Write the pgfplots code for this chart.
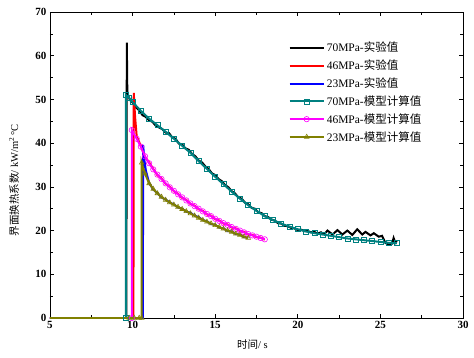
\documentclass[border=0pt]{standalone}
\usepackage{pgfplots}
\pgfplotsset{compat=1.18}
\usepackage{fontspec}
\setmainfont{Liberation Serif}
\newfontfamily\cjk{Noto Sans CJK SC}
\definecolor{cteal}{RGB}{0,128,128}
\definecolor{colive}{RGB}{128,128,0}
\definecolor{cmag}{RGB}{255,0,255}
\begin{document}
\begin{tikzpicture}
\begin{axis}[
  at={(0,0)}, anchor=south west,
  scale only axis, width=413pt, height=306pt,
  xmin=5, xmax=30, ymin=0, ymax=70,
  xtick={5,10,...,30}, ytick={0,10,...,70},
  minor x tick num=1, minor y tick num=1,
  tick pos=both, tick align=inside,
  major tick length=4pt, minor tick length=3pt,
  axis line style={line width=0.8pt}, every tick/.style={line width=0.7pt, black},
  xticklabel={\textbf{\pgfmathprintnumber[assume math mode=true]{\tick}}},
  yticklabel={\textbf{\pgfmathprintnumber[assume math mode=true]{\tick}}},
  tick label style={font=\fontsize{11}{12}\selectfont},
  xlabel={{\cjk 时间}/ s},
  ylabel={{\cjk 界面换热系数}/ kW/m\textsuperscript{2}\,°C},
  xlabel style={font=\fontsize{10.5}{12}\selectfont, at={(axis description cs:0.49,-0.088)}, anchor=center},
  ylabel style={font=\fontsize{10.5}{12}\selectfont, at={(axis description cs:-0.087,0.45)}, anchor=center},
  legend style={draw=none, fill=none, at={(axis description cs:0.57,0.915)}, anchor=north west,
    font=\fontsize{11.5}{13}\selectfont, row sep=2.6pt},
  legend cell align=left,
  legend image code/.code={\draw[#1] (0cm,0cm) -- (1.2cm,0cm); \draw[#1,only marks] plot coordinates {(0.6cm,0cm)};},
]
% experimental
\addplot[black, line width=2pt, mark=none] coordinates {
(5,0)(9.62,0)(9.65,63)(9.68,52)(9.72,51)(9.8,50.2)(9.9,49.6)(10.0,49.3)(10.2,48.2)(10.4,47.5)(10.6,46.4)(10.8,46.0)(11.0,45.2)(11.2,44.9)(11.4,44.0)(11.6,43.6)(11.8,43.2)(12.0,42.4)(12.2,42.3)(12.4,41.3)(12.6,41.0)(12.8,39.9)(13.0,39.7)(13.2,38.8)(13.4,38.5)(13.6,37.5)(13.8,37.0)(14.0,36.0)(14.2,35.6)(14.4,34.7)(14.6,34.1)(14.8,33.1)(15.0,32.7)(15.2,31.8)(15.4,31.3)(15.6,30.4)(15.8,29.9)(16.0,29.0)(16.2,28.5)(16.4,27.6)(16.6,27.3)(16.8,26.4)(17.0,26.0)(17.2,25.2)(17.4,25.0)(17.6,24.2)(17.8,24.0)(18.0,23.3)(18.2,23.1)(18.4,22.5)(18.6,22.3)(18.8,21.7)(19.0,21.6)(19.2,21.1)(19.4,21.0)(19.6,20.6)(19.8,20.5)(20.0,20.1)(20.2,20.2)(20.4,19.9)(20.6,19.9)(20.8,19.6)(21.0,19.7)(21.2,19.3)(21.4,19.6)(21.6,19.2)(21.8,20.0)(22.1,19.1)(22.4,20.1)(22.7,19.1)(23.0,20.0)(23.3,19.0)(23.6,20.3)(23.9,19.1)(24.1,19.7)(24.4,18.9)(24.6,19.4)(24.9,18.6)(25.1,18.8)(25.3,17.2)(25.5,16.8)(25.7,17.0)(25.8,18.3)(25.9,17.2)(26.0,17.6)};
\addlegendentry{70MPa-{\cjk 实验值}}
\addplot[red, line width=2pt, mark=none] coordinates {
(5,0)(10.05,0)(10.07,51.5)(10.15,46)(10.25,41.5)(10.5,39.4)(10.75,36.8)(11.0,35.6)(11.25,34.1)(11.5,32.7)(11.75,31.9)(12.0,30.7)(12.25,30.0)(12.5,29.0)(12.75,28.4)(13.0,27.5)(13.25,27.0)(13.5,26.1)(13.75,25.7)(14.0,24.9)(14.25,24.5)(14.5,23.7)(14.75,23.4)(15.0,22.6)(15.25,22.3)(15.5,21.6)(15.75,21.4)(16.0,20.7)(16.25,20.5)(16.5,19.9)(16.75,19.7)(17.0,19.1)(17.25,19.0)(17.5,18.5)(17.75,18.4)(18.0,17.9)};
\addlegendentry{46MPa-{\cjk 实验值}}
\addplot[blue, line width=2pt, mark=none] coordinates {
(5,0)(10.62,0)(10.64,39.6)(10.7,36.5)(10.8,33.8)(11.0,30.9)(11.25,29.4)(11.5,28.6)(11.75,27.6)(12.0,27.1)(12.25,26.4)(12.5,26.0)(12.75,25.3)(13.0,25.0)(13.25,24.3)(13.5,24.1)(13.75,23.4)(14.0,23.1)(14.25,22.4)(14.5,22.1)(14.75,21.5)(15.0,21.3)(15.25,20.7)(15.5,20.5)(15.75,19.9)(16.0,19.8)(16.25,19.2)(16.5,19.1)(16.75,18.5)(17.0,18.4)};
\addlegendentry{23MPa-{\cjk 实验值}}
% model baselines
\addplot[cteal, line width=2pt, mark=none, forget plot] coordinates {(5,0)(9.6,0)};
\addplot[cmag, line width=2pt, mark=none, forget plot] coordinates {(5,0)(9.95,0)};
% models
\addplot[cteal, line width=2pt, mark=square, mark size=2.5pt, mark options={solid, line width=0.6pt, fill=none}] coordinates {
(9.6,0)(9.6,51)(9.8,50.3)(10.0,49.4)(10.5,47.4)(11.0,45.6)(11.5,44.1)(12.0,42.6)(12.5,41.0)(13.0,39.4)(13.5,37.8)(14.0,35.9)(14.5,34.1)(15.0,32.3)(15.5,30.6)(16.0,28.9)(16.5,27.3)(17.0,25.8)(17.5,24.5)(18.0,23.3)(18.5,22.4)(19.0,21.6)(19.5,20.9)(20.0,20.3)(20.5,19.8)(21.0,19.4)(21.5,19.1)(22.0,18.8)(22.5,18.5)(23.0,18.2)(23.5,18.0)(24.0,17.8)(24.5,17.6)(25.0,17.4)(25.5,17.2)(26.0,17.1)};
\addlegendentry{70MPa-{\cjk 模型计算值}}
\addplot[cmag, line width=2pt, mark=o, mark size=2.7pt, mark options={solid, line width=0.6pt, fill=none}] coordinates {
(9.95,0)(9.95,43)(10.25,41)(10.5,39.2)(10.75,37)(11.0,35.4)(11.25,34.0)(11.5,32.8)(11.75,31.8)(12.0,30.8)(12.25,29.9)(12.5,29.1)(12.75,28.3)(13.0,27.6)(13.25,26.9)(13.5,26.2)(13.75,25.6)(14.0,25.0)(14.25,24.4)(14.5,23.8)(14.75,23.3)(15.0,22.7)(15.25,22.2)(15.5,21.7)(15.75,21.3)(16.0,20.8)(16.25,20.4)(16.5,20.0)(16.75,19.6)(17.0,19.2)(17.25,18.9)(17.5,18.6)(17.75,18.3)(18.0,18.0)};
\addlegendentry{46MPa-{\cjk 模型计算值}}
\addplot[colive, line width=2pt, mark=none, forget plot] coordinates {(5,0)(10.55,0)};
\addplot[colive, line width=2pt, mark=triangle, mark size=2.7pt, mark options={solid, line width=0.6pt, fill=none}] coordinates {
(9.8,0)(10.1,0)(10.4,0)(10.55,0)(10.55,35.5)(10.75,33.0)(11.0,30.8)(11.25,29.5)(11.5,28.5)(11.75,27.7)(12.0,27.0)(12.25,26.4)(12.5,25.9)(12.75,25.4)(13.0,24.9)(13.25,24.4)(13.5,23.9)(13.75,23.4)(14.0,22.9)(14.25,22.4)(14.5,22.0)(14.75,21.6)(15.0,21.2)(15.25,20.8)(15.5,20.4)(15.75,20.0)(16.0,19.7)(16.25,19.3)(16.5,19.0)(16.75,18.6)(17.0,18.3)};
\addlegendentry{23MPa-{\cjk 模型计算值}}
\end{axis}
\pgfresetboundingbox
\path (-50pt,-39pt) rectangle (424pt,318pt);
\end{tikzpicture}
\end{document}
